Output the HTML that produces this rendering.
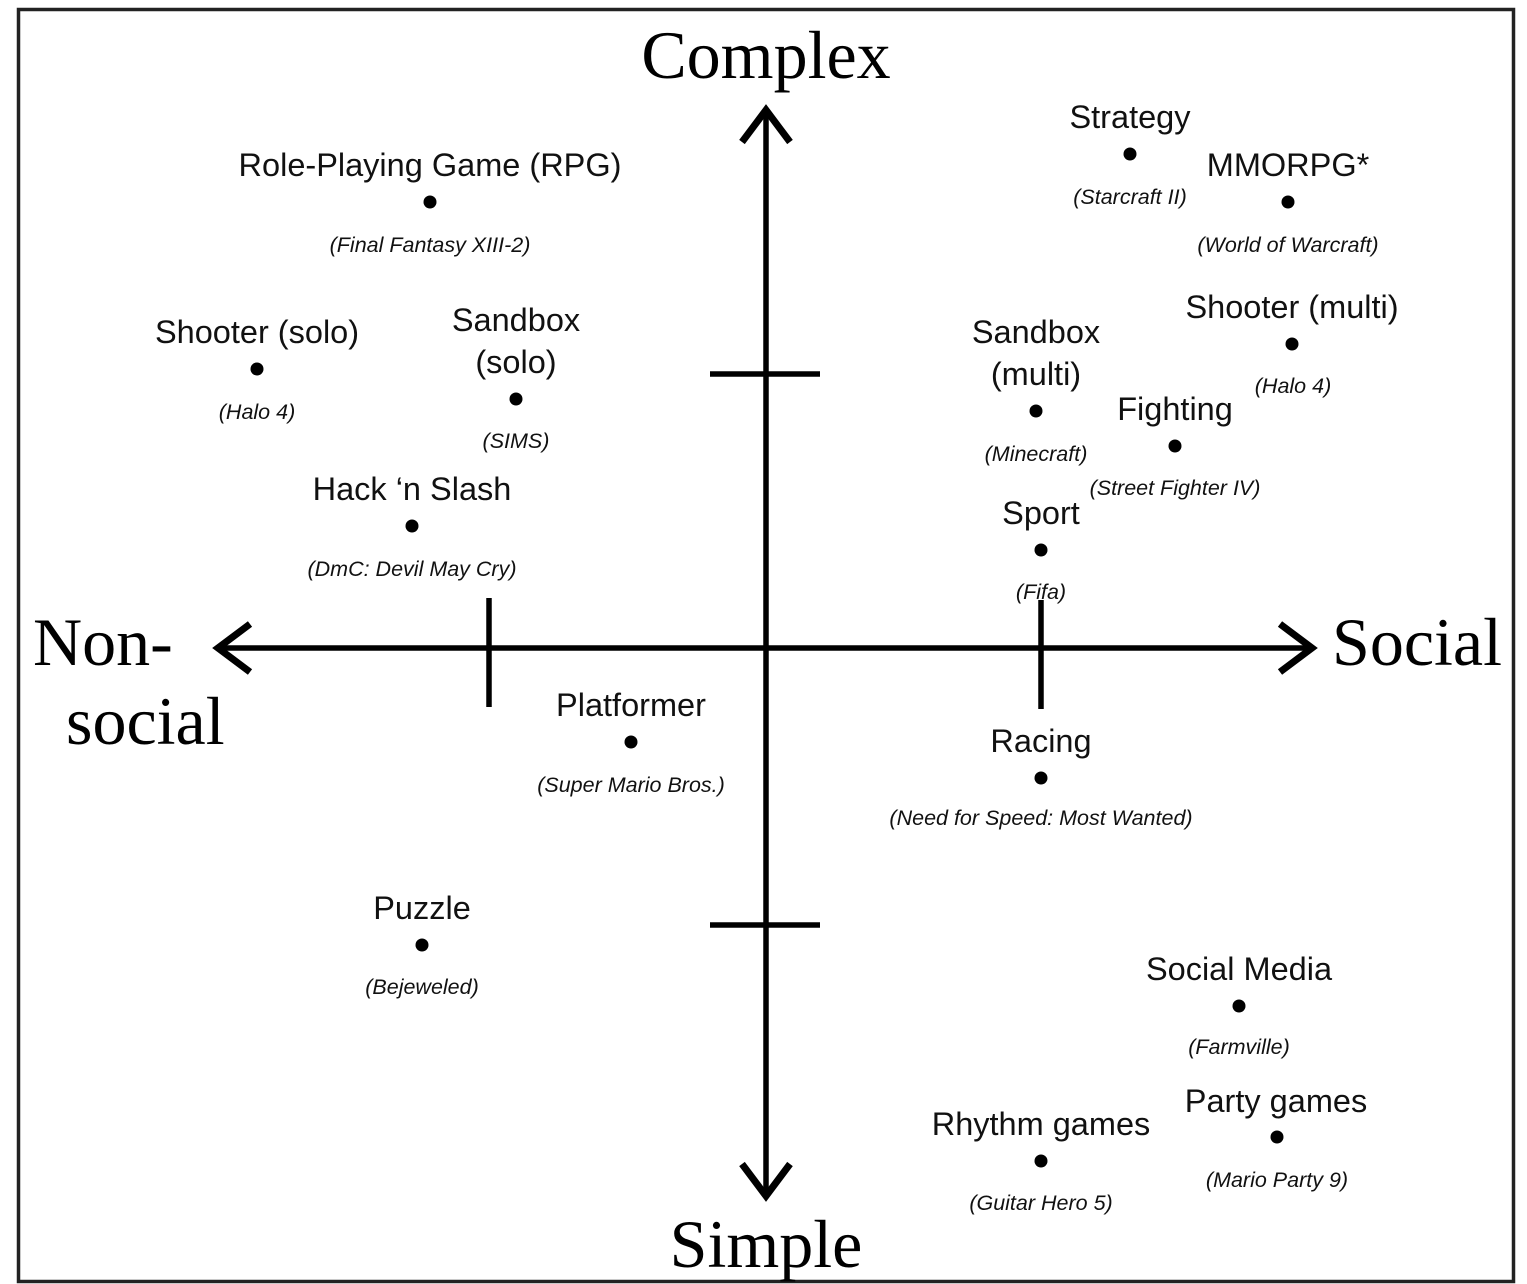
<!DOCTYPE html>
<html><head><meta charset="utf-8"><style>
html,body{margin:0;padding:0;background:#fff}
svg{display:block}
.n{font-family:"Liberation Sans",sans-serif;font-size:32.5px;fill:#111;text-anchor:middle}
.s{font-family:"Liberation Sans",sans-serif;font-size:21.5px;font-style:italic;fill:#111;text-anchor:middle}
.a{font-family:"Liberation Serif",serif;font-size:68px;fill:#000}
</style></head><body>
<svg width="1527" height="1284" viewBox="0 0 1527 1284" xmlns="http://www.w3.org/2000/svg">
<rect x="18.5" y="9.5" width="1495" height="1272" fill="#fff" stroke="#222" stroke-width="3.5"/>
<g stroke="#000" stroke-width="5.5" fill="none" stroke-linecap="butt">
<line x1="766" y1="112" x2="766" y2="1196"/>
<line x1="219" y1="648" x2="1311" y2="648"/>
<line x1="489" y1="598" x2="489" y2="707"/>
<line x1="1041" y1="600" x2="1041" y2="709"/>
<line x1="710" y1="374" x2="820" y2="374"/>
<line x1="710" y1="925" x2="820" y2="925"/>
</g>
<g stroke="#000" stroke-width="7" fill="none" stroke-linejoin="miter">
<polyline points="742,142 766,110 790,142"/>
<polyline points="742,1164 766,1196 790,1164"/>
<polyline points="250,624 218,648 250,672"/>
<polyline points="1280,624 1312,648 1280,672"/>
</g>
<text class="a" x="766" y="78" text-anchor="middle">Complex</text>
<text class="a" x="766" y="1267" text-anchor="middle">Simple</text>
<text class="a" x="1332" y="665">Social</text>
<text class="a" x="33" y="665">Non-</text>
<text class="a" x="66" y="744">social</text>
<g fill="#000">
<circle cx="430" cy="202" r="6.5"/><circle cx="1130" cy="154" r="6.5"/><circle cx="1288" cy="202" r="6.5"/>
<circle cx="257" cy="369" r="6.5"/><circle cx="516" cy="399" r="6.5"/><circle cx="1036" cy="411" r="6.5"/>
<circle cx="1292" cy="344" r="6.5"/><circle cx="1175" cy="446" r="6.5"/><circle cx="412" cy="526" r="6.5"/>
<circle cx="1041" cy="550" r="6.5"/><circle cx="631" cy="742" r="6.5"/><circle cx="1041" cy="778" r="6.5"/>
<circle cx="422" cy="945" r="6.5"/><circle cx="1239" cy="1006" r="6.5"/><circle cx="1277" cy="1137" r="6.5"/>
<circle cx="1041" cy="1161" r="6.5"/>
</g>
<text class="n" x="430" y="176">Role-Playing Game (RPG)</text><text class="s" x="430" y="252">(Final Fantasy XIII-2)</text>
<text class="n" x="1130" y="128">Strategy</text><text class="s" x="1130" y="204">(Starcraft II)</text>
<text class="n" x="1288" y="176">MMORPG*</text><text class="s" x="1288" y="252">(World of Warcraft)</text>
<text class="n" x="257" y="343">Shooter (solo)</text><text class="s" x="257" y="419">(Halo 4)</text>
<text class="n" x="516" y="331">Sandbox</text><text class="n" x="516" y="373">(solo)</text><text class="s" x="516" y="448">(SIMS)</text>
<text class="n" x="1036" y="343">Sandbox</text><text class="n" x="1036" y="385">(multi)</text><text class="s" x="1036" y="461">(Minecraft)</text>
<text class="n" x="1292" y="318">Shooter (multi)</text><text class="s" x="1293" y="393">(Halo 4)</text>
<text class="n" x="1175" y="420">Fighting</text><text class="s" x="1175" y="495">(Street Fighter IV)</text>
<text class="n" x="412" y="500">Hack ‘n Slash</text><text class="s" x="412" y="576">(DmC: Devil May Cry)</text>
<text class="n" x="1041" y="524">Sport</text><text class="s" x="1041" y="599">(Fifa)</text>
<text class="n" x="631" y="716">Platformer</text><text class="s" x="631" y="792">(Super Mario Bros.)</text>
<text class="n" x="1041" y="752">Racing</text><text class="s" x="1041" y="825">(Need for Speed: Most Wanted)</text>
<text class="n" x="422" y="919">Puzzle</text><text class="s" x="422" y="994">(Bejeweled)</text>
<text class="n" x="1239" y="980">Social Media</text><text class="s" x="1239" y="1054">(Farmville)</text>
<text class="n" x="1276" y="1112">Party games</text><text class="s" x="1277" y="1187">(Mario Party 9)</text>
<text class="n" x="1041" y="1135">Rhythm games</text><text class="s" x="1041" y="1210">(Guitar Hero 5)</text>
</svg>
</body></html>
